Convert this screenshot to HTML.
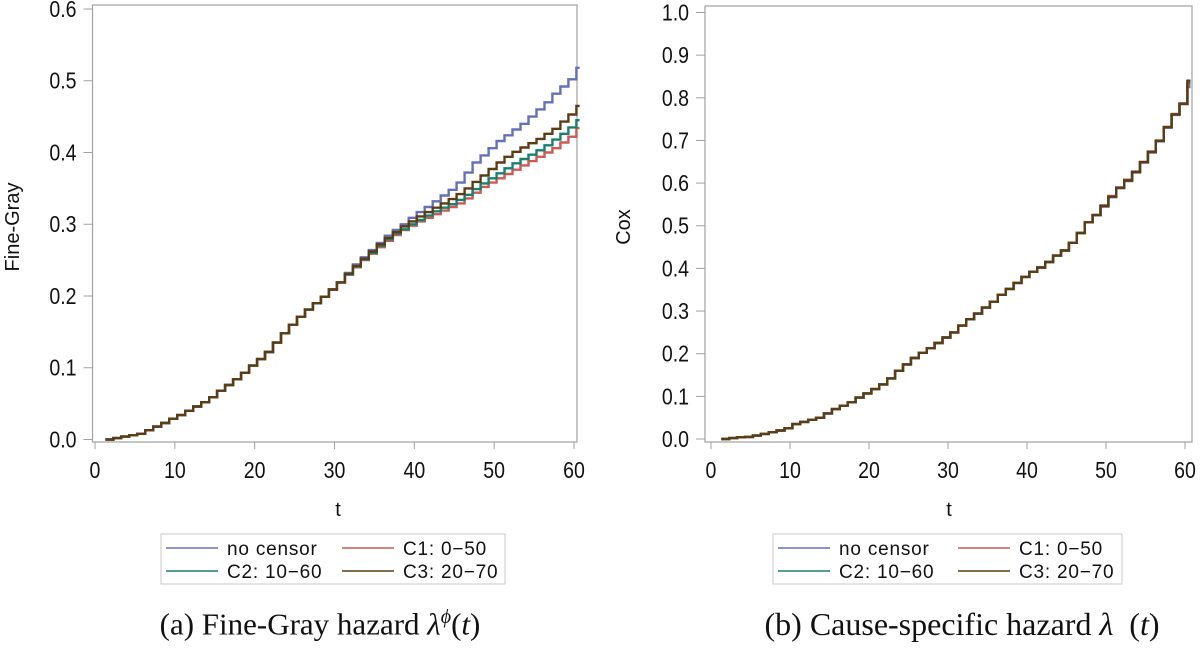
<!DOCTYPE html>
<html><head><meta charset="utf-8"><style>
body{margin:0;background:#fff;width:1200px;height:655px;overflow:hidden}
svg text{font-family:"Liberation Sans",sans-serif}
</style></head><body>
<svg id="svg" width="1200" height="655" xmlns="http://www.w3.org/2000/svg"></svg>
<script>
const stepTimes=[];for(let i=1;i<=60;i++)stepTimes.push(i);
const endTime=60.7;
const fgNoCensor=[0,.002,.004,.006,.008,.013,.018,.023,.029,.034,.040,.046,.052,.059,.068,.076,.084,.093,.103,.112,.122,.135,.148,.160,.171,.181,.190,.199,.209,.219,.232,.244,.254,.264,.274,.284,.292,.300,.309,.317,.324,.332,.340,.348,.358,.372,.386,.396,.406,.416,.424,.432,.440,.450,.460,.470,.482,.492,.502,.518];
const fgC1=[0,.002,.004,.006,.008,.013,.018,.023,.029,.034,.040,.046,.052,.059,.068,.076,.084,.093,.103,.112,.122,.135,.148,.160,.171,.181,.190,.199,.209,.219,.230,.240,.250,.259,.268,.277,.285,.292,.298,.304,.309,.314,.319,.324,.329,.336,.344,.352,.358,.364,.370,.376,.382,.388,.394,.400,.406,.414,.422,.434];
const fgC2=[0,.002,.004,.006,.008,.013,.018,.023,.029,.034,.040,.046,.052,.059,.068,.076,.084,.093,.103,.112,.122,.135,.148,.160,.171,.181,.190,.199,.209,.219,.230,.241,.251,.260,.270,.279,.287,.293,.300,.306,.312,.318,.323,.328,.334,.341,.349,.357,.364,.371,.378,.385,.391,.397,.403,.410,.418,.426,.435,.445];
const fgC3=[0,.002,.004,.006,.008,.013,.018,.023,.029,.034,.040,.046,.052,.059,.068,.076,.084,.093,.103,.112,.122,.135,.148,.160,.171,.181,.190,.199,.209,.219,.231,.242,.252,.262,.272,.281,.289,.297,.304,.311,.317,.323,.329,.335,.342,.350,.359,.368,.377,.386,.394,.401,.407,.413,.419,.426,.433,.443,.453,.465];
const coxNoCensor=[0,.002,.004,.005,.008,.012,.016,.020,.025,.035,.040,.045,.050,.060,.070,.078,.086,.097,.107,.117,.128,.142,.160,.175,.190,.202,.213,.225,.238,.250,.266,.281,.294,.308,.322,.338,.352,.366,.380,.392,.402,.415,.430,.442,.460,.483,.508,.525,.545,.567,.588,.605,.625,.648,.672,.698,.730,.760,.785,.825];
const coxC1=[0,.002,.004,.005,.008,.012,.016,.020,.025,.035,.040,.045,.050,.060,.070,.078,.086,.097,.107,.117,.128,.142,.160,.175,.190,.202,.213,.225,.238,.250,.266,.281,.294,.308,.322,.338,.352,.366,.380,.392,.402,.415,.430,.442,.460,.483,.508,.525,.548,.570,.590,.608,.627,.650,.674,.700,.732,.762,.787,.830];
const coxC2=[0,.002,.004,.005,.008,.012,.016,.020,.025,.035,.040,.045,.050,.060,.070,.078,.086,.097,.107,.117,.128,.142,.160,.175,.190,.202,.213,.225,.238,.250,.266,.281,.294,.308,.322,.338,.352,.366,.380,.392,.402,.415,.430,.442,.460,.483,.508,.525,.546,.568,.589,.606,.626,.649,.673,.699,.731,.761,.786,.835];
const coxC3=[0,.002,.004,.005,.008,.012,.016,.020,.025,.035,.040,.045,.050,.060,.070,.078,.086,.097,.107,.117,.128,.142,.160,.175,.190,.202,.213,.225,.238,.250,.266,.281,.294,.308,.322,.338,.352,.366,.380,.392,.402,.415,.430,.442,.460,.483,.508,.525,.546,.568,.589,.606,.626,.649,.673,.699,.731,.761,.786,.840];
const xTicks=[0,10,20,30,40,50,60];
const fgYTicks=["0.0","0.1","0.2","0.3","0.4","0.5","0.6"];
const coxYTicks=["0.0","0.1","0.2","0.3","0.4","0.5","0.6","0.7","0.8","0.9","1.0"];
const seriesNames=["no censor","C1: 0\u221250","C2: 10\u221260","C3: 20\u221270"];
const colors=["#6470b8","#cc5a52","#18806e","#5c3c14"];

const NS="http://www.w3.org/2000/svg",svg=document.getElementById('svg');
function el(t,a,p){const e=document.createElementNS(NS,t);for(const k in a)e.setAttribute(k,a[k]);(p||svg).appendChild(e);return e;}
function panel(cfg){
 const g=el('g',{});
 
 
 const xs=v=>cfg.x0+(v/60)*(cfg.x60-cfg.x0);
 const ys=v=>cfg.y0-(v/cfg.ymax)*(cfg.y0-cfg.ytop);
 const fr=el('rect',{x:cfg.fx1,y:cfg.fy1,width:cfg.fx2-cfg.fx1,height:cfg.fy2-cfg.fy1,fill:'none',stroke:'#a0a0a0','stroke-width':1.2},g);
 
 
 xTicks.forEach(v=>{
  el('line',{x1:xs(v),x2:xs(v),y1:cfg.fy2,y2:cfg.fy2+7,stroke:'#a0a0a0'},g);
  const t=el('text',{x:xs(v),y:cfg.fy2+36,'text-anchor':'middle','font-size':23,fill:'#111',transform:`translate(${xs(v)*0.15},0) scale(0.85,1)`},g);t.textContent=v;
  
  
 });
 cfg.yt.forEach(s=>{const v=parseFloat(s);
  el('line',{x1:cfg.fx1-9,x2:cfg.fx1,y1:ys(v),y2:ys(v),stroke:'#a0a0a0'},g);
  const ex=cfg.fx1-16;
  const t=el('text',{x:ex,y:ys(v)+8,'text-anchor':'end','font-size':23,fill:'#111',transform:`translate(${ex*0.15},0) scale(0.85,1)`},g);t.textContent=s;
  
  
 });
 const yl=el('text',{transform:`translate(${cfg.ylx},${cfg.yly}) rotate(-90)`,'text-anchor':'middle','font-size':20,fill:'#111'},g);yl.textContent=cfg.ylab;
 
 
 const xl=el('text',{x:cfg.tx,y:516,'text-anchor':'middle','font-size':20,fill:'#111'},g);xl.textContent='t';
 
 
 cfg.series.forEach((arr,i)=>{
  let d='';
  for(let k=0;k<arr.length;k++){
   const tEnd=k+1<stepTimes.length?stepTimes[k+1]:endTime;
   d+=(k===0?'M':'L')+xs(stepTimes[k]+0.3).toFixed(1)+','+ys(arr[k]).toFixed(1)+'L'+xs(tEnd+0.3>endTime?endTime:tEnd+0.3).toFixed(1)+','+ys(arr[k]).toFixed(1);
  }
  const p=el('path',{d:d,fill:'none',stroke:colors[i],'stroke-width':2.4},g);
  
  
 });
 const lg=el('g',{},g);
 
 
 el('rect',{x:cfg.lx,y:534,width:cfg.lw,height:50,fill:'#fff',stroke:'#c8c8c8'},lg);
 seriesNames.forEach((n,i)=>{
  const cx=cfg.lx+5+(i%2)*cfg.lcol, cy=548+Math.floor(i/2)*23;
  el('line',{x1:cx,x2:cx+52,y1:cy,y2:cy,stroke:colors[i],'stroke-width':1.6},lg);
  const t=el('text',{x:cx+61,y:cy+7,'font-size':19,fill:'#111','letter-spacing':'0.8'},lg);t.textContent=n;
  
  
 });
}
panel({name:'fine-gray-panel',fx1:92.5,fx2:577,fy1:5,fy2:442,x0:95,x60:574,y0:439.5,ytop:9,ymax:0.6,yt:fgYTicks,ylab:'Fine-Gray',ylx:19,yly:227,tx:338,series:[fgNoCensor,fgC1,fgC2,fgC3],lx:161,lw:344,lcol:176});
panel({name:'cox-panel',fx1:705,fx2:1192,fy1:6,fy2:442,x0:711,x60:1185,y0:439,ytop:12.5,ymax:1.0,yt:coxYTicks,ylab:'Cox',ylx:630,yly:227,tx:949,series:[coxNoCensor,coxC1,coxC2,coxC3],lx:773,lw:349,lcol:180});
</script>
<div style="position:absolute;left:0;top:606px;width:640px;text-align:center;font-family:'Liberation Serif',serif;font-size:31px;color:#111">(a) Fine-Gray hazard <i>λ</i><sup style="font-size:20px"><i>ϕ</i></sup>(<i>t</i>)</div>
<div style="position:absolute;left:600px;top:606px;width:724px;text-align:center;font-family:'Liberation Serif',serif;font-size:32px;color:#111">(b) Cause-specific hazard <i>λ</i>&nbsp; (<i>t</i>)</div>
</body></html>
